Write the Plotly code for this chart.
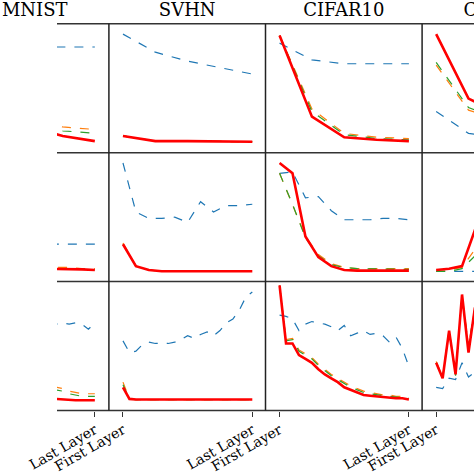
import plotly.graph_objects as go

# values are fractions of each panel's height (0 = bottom, 1 = top)
datasets = ["MNIST", "SVHN", "CIFAR10", "CIFAR100"]
tick_labels = ["First Layer", "Last Layer"]

# row 1 (5 layers)
r1_blue = [[0.82, 0.82, 0.82, 0.82, 0.82],
           [0.92, 0.78, 0.71, 0.66, 0.61],
           [0.85, 0.72, 0.69, 0.69, 0.69],
           [0.32, 0.15, 0.12, 0.10, 0.10]]
r1_orange = [[0.55, 0.35, 0.24, 0.20, 0.18],
             [0.13, 0.09, 0.09, 0.085, 0.085],
             [0.91, 0.34, 0.15, 0.12, 0.11],
             [0.68, 0.33, 0.25, 0.2, 0.18]]
r1_green = [[0.52, 0.33, 0.22, 0.17, 0.15],
            [0.13, 0.09, 0.09, 0.085, 0.085],
            [0.91, 0.32, 0.14, 0.11, 0.10],
            [0.70, 0.35, 0.26, 0.21, 0.19]]
r1_red = [[0.50, 0.30, 0.20, 0.13, 0.09],
          [0.13, 0.09, 0.09, 0.085, 0.085],
          [0.91, 0.28, 0.12, 0.10, 0.09],
          [0.92, 0.42, 0.30, 0.25, 0.20]]

# row 2 (11 layers)
r2_blue = [[0.45, 0.35, 0.30, 0.29, 0.29, 0.29, 0.29, 0.29, 0.29, 0.29, 0.29],
           [0.92, 0.54, 0.49, 0.49, 0.50, 0.46, 0.62, 0.54, 0.59, 0.59, 0.60],
           [0.84, 0.85, 0.65, 0.66, 0.55, 0.48, 0.48, 0.48, 0.49, 0.49, 0.48],
           [0.08, 0.08, 0.08, 0.08, 0.08, 0.08, 0.08, 0.08, 0.08, 0.08, 0.08]]
r2_orange = [[0.62, 0.37, 0.22, 0.17, 0.14, 0.12, 0.11, 0.11, 0.11, 0.10, 0.10],
             [0.30, 0.12, 0.09, 0.08, 0.08, 0.08, 0.08, 0.08, 0.08, 0.08, 0.08],
             [0.84, 0.60, 0.35, 0.21, 0.14, 0.11, 0.10, 0.10, 0.10, 0.10, 0.10],
             [0.09, 0.09, 0.11, 0.25, 0.5, 0.55, 0.5, 0.45, 0.4, 0.38, 0.35]]
r2_green = [[0.61, 0.36, 0.21, 0.16, 0.13, 0.11, 0.10, 0.10, 0.10, 0.10, 0.09],
            [0.29, 0.12, 0.09, 0.08, 0.08, 0.08, 0.08, 0.08, 0.08, 0.08, 0.08],
            [0.84, 0.60, 0.34, 0.20, 0.13, 0.11, 0.10, 0.10, 0.10, 0.095, 0.095],
            [0.08, 0.08, 0.10, 0.20, 0.45, 0.5, 0.45, 0.42, 0.38, 0.35, 0.33]]
r2_red = [[0.60, 0.35, 0.20, 0.15, 0.12, 0.11, 0.10, 0.10, 0.10, 0.095, 0.09],
          [0.29, 0.12, 0.09, 0.08, 0.08, 0.08, 0.08, 0.08, 0.08, 0.08, 0.08],
          [0.92, 0.84, 0.35, 0.19, 0.12, 0.09, 0.085, 0.085, 0.085, 0.085, 0.085],
          [0.09, 0.10, 0.12, 0.40, 0.80, 0.7, 0.6, 0.55, 0.5, 0.45, 0.4]]

# row 3 (21 layers)
r3_blue = [[0.45, 0.5, 0.55, 0.6, 0.62, 0.63, 0.64, 0.65, 0.66, 0.66, 0.66,
            0.66, 0.66, 0.67, 0.67, 0.68, 0.67, 0.68, 0.67, 0.63, 0.68],
           [0.54, 0.45, 0.46, 0.51, 0.53, 0.52, 0.52, 0.52, 0.53, 0.55, 0.58,
            0.56, 0.59, 0.61, 0.58, 0.62, 0.68, 0.71, 0.78, 0.88, 0.92],
           [0.74, 0.73, 0.71, 0.62, 0.67, 0.69, 0.68, 0.67, 0.65, 0.62, 0.66,
            0.58, 0.60, 0.62, 0.59, 0.60, 0.58, 0.53, 0.57, 0.48, 0.34],
           [0.18, 0.17, 0.25, 0.24, 0.37, 0.26, 0.3, 0.28, 0.3, 0.32, 0.3,
            0.31, 0.3, 0.32, 0.31, 0.3, 0.32, 0.31, 0.3, 0.31, 0.3]]
r3_orange = [[0.6, 0.5, 0.42, 0.36, 0.32, 0.29, 0.27, 0.25, 0.24, 0.23, 0.22,
              0.21, 0.2, 0.19, 0.18, 0.17, 0.15, 0.14, 0.13, 0.13, 0.13],
             [0.22, 0.09, 0.085, 0.085, 0.085, 0.085, 0.085, 0.085, 0.085, 0.085, 0.085,
              0.085, 0.085, 0.085, 0.085, 0.085, 0.085, 0.085, 0.085, 0.085, 0.085],
             [0.97, 0.55, 0.56, 0.47, 0.44, 0.41, 0.36, 0.32, 0.28, 0.25, 0.22,
              0.19, 0.17, 0.15, 0.14, 0.13, 0.12, 0.12, 0.11, 0.11, 0.10],
             [0.38, 0.26, 0.63, 0.28, 0.9, 0.5, 0.8, 0.4, 0.7, 0.5, 0.6,
              0.5, 0.55, 0.5, 0.5, 0.5, 0.5, 0.5, 0.5, 0.5, 0.5]]
r3_green = [[0.58, 0.48, 0.4, 0.34, 0.3, 0.27, 0.25, 0.23, 0.22, 0.21, 0.2,
             0.19, 0.18, 0.17, 0.16, 0.15, 0.13, 0.12, 0.11, 0.11, 0.11],
            [0.2, 0.09, 0.085, 0.085, 0.085, 0.085, 0.085, 0.085, 0.085, 0.085, 0.085,
             0.085, 0.085, 0.085, 0.085, 0.085, 0.085, 0.085, 0.085, 0.085, 0.085],
            [0.97, 0.54, 0.55, 0.46, 0.43, 0.40, 0.35, 0.31, 0.27, 0.24, 0.21,
             0.18, 0.16, 0.14, 0.13, 0.12, 0.115, 0.11, 0.105, 0.10, 0.095],
            [0.37, 0.25, 0.62, 0.27, 0.88, 0.5, 0.8, 0.4, 0.7, 0.5, 0.6,
             0.5, 0.55, 0.5, 0.5, 0.5, 0.5, 0.5, 0.5, 0.5, 0.5]]
r3_red = [[0.5, 0.4, 0.32, 0.26, 0.22, 0.19, 0.17, 0.15, 0.14, 0.13, 0.12,
           0.11, 0.1, 0.095, 0.09, 0.085, 0.08, 0.08, 0.08, 0.08, 0.08],
          [0.18, 0.09, 0.085, 0.085, 0.085, 0.085, 0.085, 0.085, 0.085, 0.085, 0.085,
           0.085, 0.085, 0.085, 0.085, 0.085, 0.085, 0.085, 0.085, 0.085, 0.085],
          [0.97, 0.52, 0.52, 0.43, 0.40, 0.37, 0.32, 0.28, 0.25, 0.22, 0.18,
           0.16, 0.14, 0.12, 0.115, 0.11, 0.10, 0.10, 0.095, 0.095, 0.085],
          [0.37, 0.25, 0.62, 0.28, 0.9, 0.45, 0.8, 0.4, 0.7, 0.5, 0.6,
           0.5, 0.55, 0.5, 0.5, 0.5, 0.5, 0.5, 0.5, 0.5, 0.5]]

rows = [(r1_blue, r1_orange, r1_green, r1_red),
        (r2_blue, r2_orange, r2_green, r2_red),
        (r3_blue, r3_orange, r3_green, r3_red)]

W = 474
col_dom = [(0, 59 / W), (59 / W, 237 / W), (237 / W, 415 / W), (415 / W, 1)]
# visible x-range as fraction of (n-1)
col_rng = [((0 + 103) / 146, (59 + 103) / 146),
           (-16 / 147, 162 / 147),
           (-16 / 147, 162 / 147),
           (-16 / 147, 43 / 147)]
row_dom = [((474 - 154) / W, (474 - 24) / W),
           ((474 - 284) / W, (474 - 154) / W),
           ((474 - 414) / W, (474 - 284) / W)]

fig = go.Figure()
styles = [("#1f77b4", 1.2, "dash"), ("#ff7f0e", 1.2, "dash"),
          ("#2ca02c", 1.2, "dash"), ("red", 2.6, "solid")]
k = 0
for r, series in enumerate(rows):
    for c in range(4):
        k += 1
        xa = "x" if k == 1 else f"x{k}"
        ya = "y" if k == 1 else f"y{k}"
        for s, (col, w, dash) in zip(series, styles):
            vals = s[c]
            fig.add_trace(go.Scatter(x=list(range(len(vals))), y=vals, mode="lines",
                                     line=dict(color=col, width=w, dash=dash),
                                     xaxis=xa, yaxis=ya, showlegend=False))
        n = len(series[0][c]) - 1
        lo, hi = col_rng[c]
        bottom = r == 2
        fig.layout[f"xaxis{k if k > 1 else ''}"] = dict(
            domain=col_dom[c], range=[lo * n, hi * n], anchor=ya,
            showgrid=False, zeroline=False,
            showticklabels=bottom, ticks="outside" if bottom else "",
            tickvals=[0, n], ticktext=tick_labels, tickangle=-30,
            ticklen=5, tickcolor="#333", tickfont=dict(family="DejaVu Serif", size=14, color="black"))
        fig.layout[f"yaxis{k if k > 1 else ''}"] = dict(
            domain=row_dom[r], range=[0, 1], anchor=xa,
            showgrid=False, zeroline=False, showticklabels=False)

# column titles on a hidden strip axis in pixel units; outer ones run off the page
title_x = [12, 148, 326, 462]
title_pos = ["middle left", "middle center", "middle center", "middle right"]
fig.add_trace(go.Scatter(x=title_x, y=[0.5] * 4, text=datasets, mode="text",
                         textposition=title_pos,
                         textfont=dict(family="DejaVu Serif", size=18, color="black"),
                         cliponaxis=False, xaxis="x20", yaxis="y20", showlegend=False,
                         hoverinfo="skip"))
fig.layout["xaxis20"] = dict(domain=[0, 1], range=[0, W], visible=False, anchor="y20")
fig.layout["yaxis20"] = dict(domain=[1 - 24 / W, 1], range=[0, 1], visible=False, anchor="x20")

shapes = []
for y in [24, 154, 284, 414]:
    shapes.append(dict(type="line", xref="paper", yref="paper", x0=0, x1=1,
                       y0=1 - y / W, y1=1 - y / W, line=dict(color="#333", width=1.5)))
for x in [59, 237, 415]:
    shapes.append(dict(type="line", xref="paper", yref="paper", x0=x / W, x1=x / W,
                       y0=1 - 414 / W, y1=1 - 24 / W, line=dict(color="#222", width=1.5)))

fig.update_layout(width=474, height=474, margin=dict(l=0, r=0, t=0, b=0),
                  plot_bgcolor="white", paper_bgcolor="white", shapes=shapes)
fig.write_html("out.html", config={"displayModeBar": False},
               post_script="document.body.style.margin='0';")
